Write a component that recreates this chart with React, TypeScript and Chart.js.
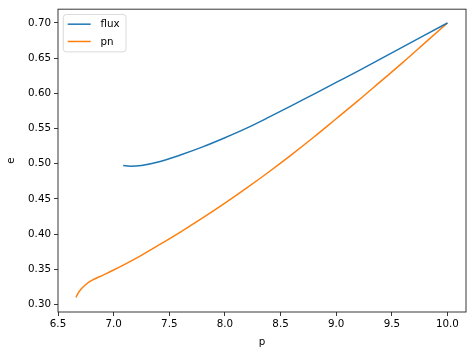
import React, { useEffect, useRef } from "react";
import { Chart, registerables } from "chart.js";
Chart.register(...registerables);

const fluxP = [7.086, 7.15, 7.25, 7.4, 7.6, 7.8, 8.0, 8.2, 8.4, 8.6, 8.8, 9.0, 9.2, 9.4, 9.6, 9.8, 10.0];
const fluxE = [0.4975, 0.4965, 0.4975, 0.5025, 0.5125, 0.524, 0.537, 0.551, 0.5665, 0.5825, 0.599, 0.6155, 0.632, 0.649, 0.666, 0.683, 0.7];

const pnP = [6.662, 6.68, 6.71, 6.75, 6.8, 6.9, 7.0, 7.1, 7.2, 7.4, 7.6, 7.8, 8.0, 8.2, 8.4, 8.6, 8.8, 9.0, 9.2, 9.4, 9.6, 9.8, 10.0];
const pnE = [0.31, 0.316, 0.3225, 0.3285, 0.334, 0.3415, 0.349, 0.357, 0.3655, 0.384, 0.403, 0.423, 0.444, 0.466, 0.489, 0.513, 0.538, 0.564, 0.59, 0.617, 0.644, 0.672, 0.7];

const xTicks = [6.5, 7.0, 7.5, 8.0, 8.5, 9.0, 9.5, 10.0];
const yTicks = [0.3, 0.35, 0.4, 0.45, 0.5, 0.55, 0.6, 0.65, 0.7];
const seriesLabels = ["flux", "pn"];
const seriesColors = ["#1f77b4", "#ff7f0e"];
const xTitle = "p";
const yTitle = "e";

const FONT = "'DejaVu Sans', sans-serif";
const FS = 10.3;

const framePlugin = {
  id: "frameLegend",
  afterDraw(chart: any) {
    const ctx = chart.ctx;
    const a = chart.chartArea;
    ctx.save();
    ctx.strokeStyle = "#222";
    ctx.lineWidth = 0.9;
    ctx.strokeRect(a.left, a.top, a.right - a.left, a.bottom - a.top);
    const bx = a.left + 5.3;
    const by = a.top + 5.3;
    const bw = 62.7;
    const bh = 37.4;
    const r = 3;
    ctx.beginPath();
    ctx.moveTo(bx + r, by);
    ctx.lineTo(bx + bw - r, by);
    ctx.quadraticCurveTo(bx + bw, by, bx + bw, by + r);
    ctx.lineTo(bx + bw, by + bh - r);
    ctx.quadraticCurveTo(bx + bw, by + bh, bx + bw - r, by + bh);
    ctx.lineTo(bx + r, by + bh);
    ctx.quadraticCurveTo(bx, by + bh, bx, by + bh - r);
    ctx.lineTo(bx, by + r);
    ctx.quadraticCurveTo(bx, by, bx + r, by);
    ctx.closePath();
    ctx.fillStyle = "rgba(255,255,255,0.8)";
    ctx.fill();
    ctx.strokeStyle = "#d0d0d0";
    ctx.lineWidth = 0.8;
    ctx.stroke();
    const rows = [a.top + 15, a.top + 32.3];
    ctx.font = `${FS}px ${FONT}`;
    ctx.textBaseline = "middle";
    ctx.textAlign = "left";
    seriesLabels.forEach((lab, i) => {
      ctx.strokeStyle = seriesColors[i];
      ctx.lineWidth = 1.5;
      ctx.beginPath();
      ctx.moveTo(a.left + 9.7, rows[i]);
      ctx.lineTo(a.left + 32.7, rows[i]);
      ctx.stroke();
      ctx.fillStyle = "#000";
      ctx.fillText(lab, a.left + 42.5, rows[i] + 0.5);
    });
    ctx.restore();
  },
};

export default function App() {
  const ref = useRef<HTMLCanvasElement | null>(null);
  useEffect(() => {
    if (!ref.current) return;
    const chart = new Chart(ref.current, {
      type: "line",
      data: {
        datasets: [
          {
            label: seriesLabels[0],
            data: fluxP.map((p, i) => ({ x: p, y: fluxE[i] })),
            borderColor: seriesColors[0],
            backgroundColor: seriesColors[0],
            borderWidth: 1.5,
            pointRadius: 0,
            cubicInterpolationMode: "monotone",
            fill: false,
          },
          {
            label: seriesLabels[1],
            data: pnP.map((p, i) => ({ x: p, y: pnE[i] })),
            borderColor: seriesColors[1],
            backgroundColor: seriesColors[1],
            borderWidth: 1.5,
            pointRadius: 0,
            cubicInterpolationMode: "monotone",
            fill: false,
          },
        ],
      },
      options: {
        responsive: false,
        animation: false,
        layout: { padding: { left: 0, right: 8, top: 8, bottom: 0 } },
        plugins: { legend: { display: false }, tooltip: { enabled: false } },
        scales: {
          x: {
            type: "linear",
            min: 6.5,
            max: 10.1667,
            afterBuildTicks: (s: any) => {
              s.ticks = xTicks.map((v) => ({ value: v }));
            },
            afterFit: (s: any) => {
              s.height = 43;
            },
            ticks: {
              callback: (v: any) => Number(v).toFixed(1),
              color: "#000",
              font: { family: FONT, size: FS },
              padding: 2,
              maxRotation: 0,
              autoSkip: false,
            },
            grid: {
              display: true,
              drawOnChartArea: false,
              drawTicks: true,
              tickLength: 4,
              tickColor: "#222",
              tickWidth: 0.9,
            },
            border: { display: false },
            title: {
              display: true,
              text: xTitle,
              color: "#000",
              font: { family: FONT, size: FS },
              padding: { top: 0, bottom: 6 },
            },
          },
          y: {
            type: "linear",
            min: 0.2894,
            max: 0.7196,
            afterBuildTicks: (s: any) => {
              s.ticks = yTicks.map((v) => ({ value: v }));
            },
            afterFit: (s: any) => {
              s.width = 58;
            },
            ticks: {
              callback: (v: any) => Number(v).toFixed(2),
              color: "#000",
              font: { family: FONT, size: FS },
              padding: 3,
              autoSkip: false,
            },
            grid: {
              display: true,
              drawOnChartArea: false,
              drawTicks: true,
              tickLength: 4,
              tickColor: "#222",
              tickWidth: 0.9,
            },
            border: { display: false },
            title: {
              display: true,
              text: yTitle,
              color: "#000",
              font: { family: FONT, size: FS },
              padding: { top: 5.5, bottom: 0 },
            },
          },
        },
      },
      plugins: [framePlugin],
    } as any);
    return () => chart.destroy();
  }, []);
  return (
    <div style={{ position: "absolute", left: 0, top: 0, width: 474, height: 355, background: "#fff" }}>
      <canvas ref={ref} width={474} height={355} />
    </div>
  );
}
